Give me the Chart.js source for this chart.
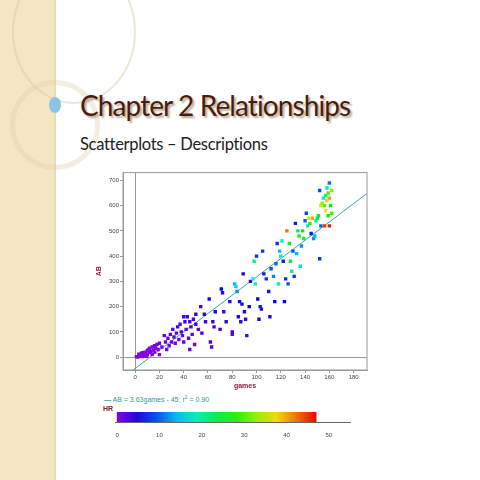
<!DOCTYPE html>
<html><head><meta charset="utf-8">
<script src="https://cdn.jsdelivr.net/npm/chart.js@4"></script>
<style>
body{margin:0;width:480px;height:480px;background:#fff;position:relative;overflow:hidden;font-family:Lato,sans-serif}
#strip{position:absolute;left:0;top:0;width:54px;height:480px;background:#f4e6c4;border-right:2px solid #eadbb4}
.ring{position:absolute;border-radius:50%;border:2px solid rgba(215,200,165,.45)}
#dot{position:absolute;left:49px;top:97px;width:12px;height:16px;border-radius:50%;background:#8cc4e6}
#title{position:absolute;left:80px;top:88px;font-size:28px;color:#4a1c10;text-shadow:2px 2px 2px #b9a78f;letter-spacing:-0.9px}
#sub{position:absolute;left:80px;top:134px;font-size:16.5px;color:#222;letter-spacing:-0.3px}
#c1{position:absolute;left:95px;top:168px;width:280px;height:222px}
#eq{position:absolute;left:104px;top:394px;font-size:7px;color:#2a9a9a;font-family:Arial,sans-serif}
#hr{position:absolute;left:103px;top:405px;font-size:7px;color:#8a1a40;font-weight:bold;font-family:Arial,sans-serif}
#c2{position:absolute;left:95px;top:412px;width:280px;height:28px}
</style></head><body>
<div id="strip"></div>
<div class="ring" style="left:12px;top:-40px;width:120px;height:140px"></div>
<div class="ring" style="left:10px;top:80px;width:80px;height:80px;border-width:5px;border-color:rgba(220,205,170,.35)"></div>
<div id="dot"></div>
<div id="title">Chapter 2 Relationships</div>
<div id="sub">Scatterplots – Descriptions</div>
<div id="c1"><canvas id="chart"></canvas></div>
<div id="eq"><b style="color:#2a9a9a">—</b> AB = 3.63games - 45; r<sup style="font-size:5px">2</sup> = 0.90</div>
<div id="hr">HR</div>
<div id="c2"><canvas id="bar"></canvas></div>
<script>
// games, AB, HR per player
const games = [1,2,3,4,5,5,6,7,8,8,9,10,10,11,12,12,13,14,14,15,16,16,17,18,19,20,20,3,6,9,
22,24,25,26,27,28,29,30,31,32,33,34,35,36,37,38,39,40,40,41,42,43,44,45,45,46,47,48,49,50,50,52,54,55,57,58,
61,62,63,64,65,66,70,71,72,73,75,78,80,80,82,83,84,85,86,87,88,89,90,91,92,94,95,
97,98,99,100,101,102,103,104,105,106,108,110,111,112,114,115,116,117,118,119,120,121,122,123,124,125,126,127,128,129,130,131,132,133,
134,135,136,137,138,139,140,141,142,143,144,145,146,147,148,149,150,151,152,152,153,153,154,155,156,156,157,158,158,159,160,160,160,161,162,162,159,157];
const ab = [2,0,5,3,8,15,2,10,20,5,15,25,8,30,18,35,22,40,10,28,45,20,35,50,30,55,10,12,18,3,
40,85,60,30,75,45,90,60,110,80,55,95,120,70,130,100,85,160,60,140,110,160,75,30,140,120,90,150,50,170,130,110,200,95,170,140,
230,60,40,140,120,180,110,270,255,180,140,220,100,90,290,280,260,160,220,140,210,330,180,150,85,200,300,
310,380,290,400,230,150,200,190,420,330,310,260,160,350,320,220,370,450,290,420,400,460,380,220,310,500,290,450,380,340,420,320,530,410,
500,480,360,440,500,470,540,570,520,550,530,490,550,470,480,540,550,560,390,660,600,520,610,630,520,600,640,620,670,650,520,630,690,600,570,660,560,580];
const hr = [0,0,0,0,0,0,0,0,0,0,0,0,0,0,0,0,1,0,0,0,1,0,0,1,0,1,0,0,0,0,
0,2,1,1,1,1,2,1,2,2,1,2,3,1,2,3,1,3,2,3,2,4,2,1,3,2,2,3,1,4,3,2,4,3,4,3,
5,3,2,4,3,5,3,6,5,4,4,5,3,2,14,15,12,4,5,4,6,5,5,4,3,6,5,
16,21,20,8,6,5,7,5,8,7,8,7,5,9,12,6,10,8,20,14,16,18,7,6,8,42,9,25,24,20,9,8,7,14,
22,28,20,12,26,23,10,9,18,35,28,7,40,12,14,20,22,25,8,9,34,10,33,20,45,30,22,38,19,30,46,40,11,26,29,32,27,36];
const slope = 3.63, intercept = -45;
const hrTicks = [0,10,20,30,40,50];
const hrMax = 47;

const hrColor = h => 'hsl(' + Math.round(275 * (1 - h / hrMax)) + ',95%,' + (h < 8 ? 45 : 48) + '%)';
const points = games.map((g, i) => ({x: g, y: ab[i]}));
const grey = '#999';

new Chart(document.getElementById('chart'), {
  data: {
    datasets: [{
      type: 'scatter',
      data: points,
      pointStyle: 'rect',
      pointRadius: 2.4,
      borderWidth: 0,
      backgroundColor: points.map((p, i) => hrColor(hr[i]))
    }, {
      type: 'line',
      data: [{x: -10, y: slope * -10 + intercept}, {x: 191, y: slope * 191 + intercept}],
      borderColor: '#3aa5a8',
      borderWidth: 1,
      pointRadius: 0
    }]
  },
  options: {
    animation: false, responsive: true, maintainAspectRatio: false,
    layout: {padding: {top: 4, right: 8}},
    plugins: {legend: {display: false}, tooltip: {enabled: false}},
    scales: {
      x: {
        type: 'linear', min: -10, max: 191,
        afterFit: s => { s.height = 20; },
        afterBuildTicks: s => { s.ticks = [0,20,40,60,80,100,120,140,160,180].map(v => ({value: v})); },
        grid: {color: c => c.tick.value === 0 ? grey : 'transparent', drawTicks: true, tickLength: 3, tickColor: grey},
        border: {color: grey},
        ticks: {font: {size: 6}, color: '#444', padding: 1},
        title: {display: true, text: 'games', color: '#8a1a40', font: {size: 7, weight: 'bold'}, padding: 0}
      },
      y: {
        min: -51, max: 731,
        afterFit: s => { s.width = 28; },
        afterBuildTicks: s => { s.ticks = [0,100,200,300,400,500,600,700].map(v => ({value: v})); },
        grid: {color: c => c.tick.value === 0 ? grey : 'transparent', tickLength: 3, tickColor: grey},
        border: {color: grey},
        ticks: {font: {size: 6}, color: '#444', padding: 1},
        title: {display: true, text: 'AB', color: '#8a1a40', font: {size: 7, weight: 'bold'}, padding: 0}
      }
    }
  },
  plugins: [{
    id: 'frame',
    afterDraw(c) {
      const a = c.chartArea, x = c.ctx;
      x.save(); x.strokeStyle = grey; x.lineWidth = 1;
      x.strokeRect(a.left, a.top, a.right - a.left, a.bottom - a.top);
      x.restore();
    }
  }]
});

new Chart(document.getElementById('bar'), {
  type: 'bar',
  data: {
    labels: ['HR'],
    datasets: [{
      data: [[0, hrMax]],
      barPercentage: 1, categoryPercentage: 1,
      borderWidth: 0,
      backgroundColor: ctx => {
        const ch = ctx.chart, a = ch.chartArea;
        if (!a) return '#800';
        const sx = ch.scales.x;
        const g = ch.ctx.createLinearGradient(sx.getPixelForValue(0), 0, sx.getPixelForValue(hrMax), 0);
        for (let i = 0; i <= 10; i++) g.addColorStop(i / 10, hrColor(hrMax * i / 10));
        return g;
      }
    }]
  },
  options: {
    indexAxis: 'y', animation: false, responsive: true, maintainAspectRatio: false,
    layout: {padding: {left: 20, right: 25}},
    plugins: {legend: {display: false}, tooltip: {enabled: false}},
    scales: {
      x: {
        min: -0.5, max: 55,
        afterBuildTicks: s => { s.ticks = hrTicks.map(v => ({value: v})); },
        grid: {display: false},
        border: {color: '#666'},
        ticks: {font: {size: 6}, color: '#444', padding: 2},
        afterFit: s => { s.height = 18; }
      },
      y: {display: false}
    }
  }
});
</script>
</body></html>
